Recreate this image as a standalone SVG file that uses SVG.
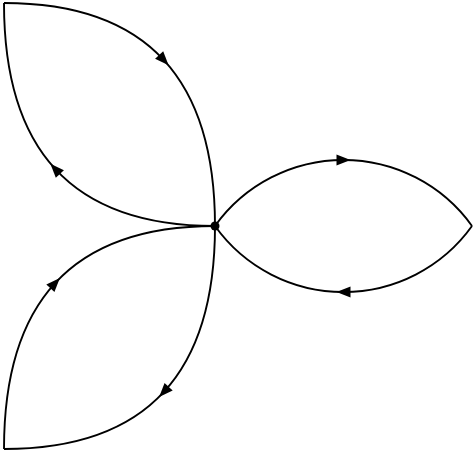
<svg xmlns="http://www.w3.org/2000/svg" width="474" height="451" viewBox="0 0 474 451">
  <style>
    .edge { fill: none; stroke: #000; stroke-width: 1.9; marker-mid: url(#arrow); }
    .node { fill: #000; }
  </style>
  <defs>
    <marker id="arrow" viewBox="-16 -7 17 14" refX="-7" refY="0" markerWidth="17" markerHeight="14" markerUnits="userSpaceOnUse" orient="auto">
      <path d="M0,0 L-14,-5.5 L-14,5.5 Z" fill="#000"/>
    </marker>
  </defs>
  <g id="connectors">
    <path class="edge" d="M4,3 C76.5,3 129.25,22.5 163.875,60.125 C198.5,97.75 215,153.5 215,226"/>
    <path class="edge" d="M215,226 C142.5,226 89.75,206.5 55.125,168.875 C20.5,131.25 4,75.5 4,3"/>
    <path class="edge" d="M4,449 C4,376.5 20.5,320.75 55.125,283.125 C89.75,245.5 142.5,226 215,226"/>
    <path class="edge" d="M215,226 C215,298.5 198.5,354.25 163.875,391.875 C129.25,429.5 76.5,449 4,449"/>
    <path class="edge" d="M215,226 A158.1,158.1 0 0 1 343.5,160 A158.1,158.1 0 0 1 472,226"/>
    <path class="edge" d="M472,226 A158.1,158.1 0 0 1 343.5,292 A158.1,158.1 0 0 1 215,226"/>
  </g>
  <g id="center">
    <circle class="node" cx="215" cy="226" r="4.5"/>
  </g>
</svg>
